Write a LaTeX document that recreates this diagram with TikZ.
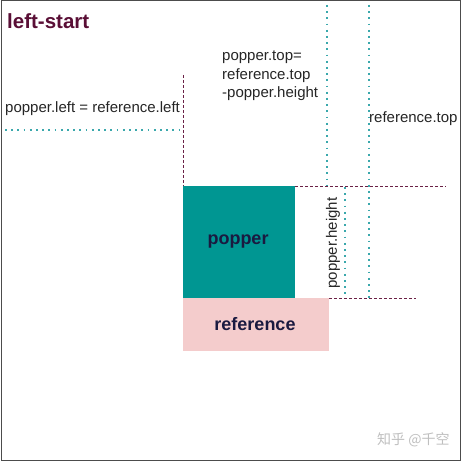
\documentclass[tikz,border=0pt]{standalone}
\usepackage{fontspec}
\setmainfont{Liberation Sans}
\newfontfamily\cjk{Noto Sans CJK SC}
\definecolor{tealbox}{HTML}{009692}
\definecolor{pinkbox}{HTML}{F4CCCC}
\definecolor{dotc}{HTML}{3AA8AC}
\definecolor{dashc}{HTML}{6A2045}
\definecolor{titlec}{HTML}{5A0F36}
\definecolor{labelc}{HTML}{1A1A40}
\begin{document}
\begin{tikzpicture}[x=1pt,y=-1pt,
  dotline/.style={draw=dotc,line width=1.8pt,dash pattern=on 1.8pt off 4.4pt},
  dashline/.style={draw=dashc,line width=0.8pt,dash pattern=on 3pt off 2pt},
  txt/.style={font=\fontsize{15}{18.5}\selectfont,text=black!85,inner sep=0pt},
  boxlabel/.style={font=\fontsize{18}{20}\selectfont\bfseries,text=labelc}]
\useasboundingbox (0,0) rectangle (462,462);
\fill[white] (0,0) rectangle (462,462);
\draw[black!70,line width=1pt] (1,1) rectangle (460.5,460.5);
% boxes
\node[fill=tealbox,minimum width=112pt,minimum height=112pt,inner sep=0pt,anchor=north west] (popper) at (183,186) {};
\node[boxlabel] at (238,242) {popper};
\node[fill=pinkbox,minimum width=146pt,minimum height=53pt,inner sep=0pt,anchor=north west] (ref) at (183,298) {};
\node[boxlabel] at (255,324) {reference};
% coordinates
\coordinate (vtop) at (183,75);
\coordinate (hr1) at (446,186);
\coordinate (hr2) at (416,298);
\coordinate (c1t) at (327,5);
\coordinate (c1b) at (327,186);
\coordinate (c2t) at (369,5);
\coordinate (c2b) at (369,298);
\coordinate (c3t) at (345,187);
\coordinate (c3b) at (345,298);
\coordinate (hl) at (5,130);
\coordinate (hlr) at (183,130);
% dashed lines
\draw[dashline] (vtop) -- (popper.north west);
\draw[dashline] (popper.north east) -- (hr1);
\draw[dashline] (ref.north east) -- (hr2);
% dotted lines
\draw[dotline] (c1t) -- (c1b);
\draw[dotline] (c2t) -- (c2b);
\draw[dotline] (c3t) -- (c3b);
\draw[dotline] (hl) -- (hlr);
% texts
\node[font=\fontsize{20.5}{22}\selectfont\bfseries,text=titlec,anchor=west,inner sep=0pt] (title) at (7,21) {left-start};
\node[txt,anchor=west] (t1) at (5,109) {popper.left = reference.left};
\node[txt,anchor=north west,align=left] (t2) at (222,51) {popper.top=\\reference.top\\-popper.height};
\node[txt,anchor=west] (t3) at (369,119) {reference.top};
\node[txt,rotate=90] (t4) at (333,243) {popper.height};
\node[font=\cjk\fontsize{14}{16}\selectfont,text=black!25,anchor=west,inner sep=0pt] (wm) at (377,440) {知乎 @千空};
\end{tikzpicture}
\end{document}
